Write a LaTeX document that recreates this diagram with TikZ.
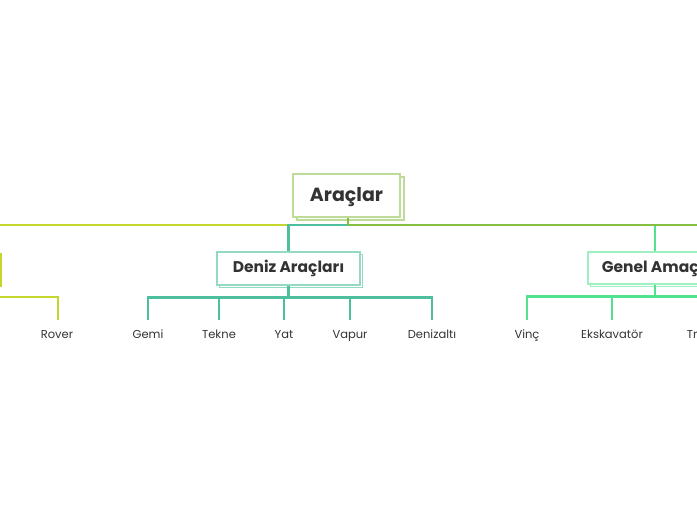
\documentclass[tikz,border=0pt]{standalone}
\usepackage{fontspec}
\setmainfont{Poppins}
\usetikzlibrary{shadows}

\definecolor{limeline}{HTML}{C4D52B}
\definecolor{leafline}{HTML}{86C042}
\definecolor{tealline}{HTML}{4DBF9D}
\definecolor{mintline}{HTML}{50E38E}
\definecolor{inktext}{HTML}{333333}

\tikzset{
  branch/.style={line width=2.6pt},
  topic/.style={draw,fill=white,line width=1.3pt,text=inktext,font=\bfseries,
    inner ysep=0pt},
  leaf/.style={anchor=north,inner sep=0pt,text height=9pt,text depth=2pt,
    text=inktext,font=\fontsize{11.5}{13}\selectfont}
}

\begin{document}
\begin{tikzpicture}[x=1pt,y=-1pt]
\useasboundingbox (0,0) rectangle (697,520);
\clip (0,0) rectangle (697,520);

\coordinate (hub) at (348,225);
\coordinate (westend) at (-5,225);
\coordinate (eastend) at (705,225);

\draw[branch,limeline] (hub) -- (westend);
\draw[branch,limeline] (0.5,253) -- (0.5,287);
\draw[branch,limeline] (-5,297) -| (58,320);

\node[topic,draw=tealline!60,copy shadow={shadow xshift=2.5pt,shadow yshift=-2.5pt},
  minimum width=143pt,minimum height=33pt,text height=11pt,text depth=3pt,
  font=\fontsize{15.5}{17}\selectfont\bfseries]
  (deniz) at (288.5,268.5) {Deniz Araçları};
\node[topic,draw=mintline!55,copy shadow={shadow xshift=2.5pt,shadow yshift=-2.5pt},
  minimum width=134pt,minimum height=32pt,text height=11pt,text depth=3pt,
  font=\fontsize{15.5}{17}\selectfont\bfseries]
  (genel) at (655,268) {Genel Amaçlı};

\draw[branch,tealline] (hub) -| (deniz.north);
\draw[branch,mintline] (hub) -| (genel.north);
\draw[branch,leafline] (hub) -- (eastend);

\node[topic,draw=leafline!55,copy shadow={shadow xshift=4pt,shadow yshift=-3pt},
  minimum width=107pt,minimum height=43pt,text height=14pt,text depth=2pt,
  font=\fontsize{19}{21}\selectfont\bfseries]
  (root) at (346.5,195.5) {Araçlar};
\draw[branch,leafline] (root.south -| hub) -- (hub);

\node[leaf] (rover) at (57,329) {Rover};

\node[leaf] (gemi) at (148,329) {Gemi};
\node[leaf] (tekne) at (219,329) {Tekne};
\node[leaf] (yat) at (284,329) {Yat};
\node[leaf] (vapur) at (350,329) {Vapur};
\node[leaf] (denizalti) at (432,329) {Denizaltı};
\foreach \c in {gemi,tekne,yat,vapur,denizalti}
  \draw[branch,tealline,shorten >=9pt] (deniz.south) -- ++(0,12) -| (\c.north);

\node[leaf] (vinc) at (527,329) {Vinç};
\node[leaf] (ekskavator) at (612,329) {Ekskavatör};
\node[leaf] (traktor) at (707,329) {Traktör};
\foreach \c in {vinc,ekskavator,traktor}
  \draw[branch,mintline,shorten >=9pt] (genel.south) -- ++(0,12) -| (\c.north);
\end{tikzpicture}
\end{document}
